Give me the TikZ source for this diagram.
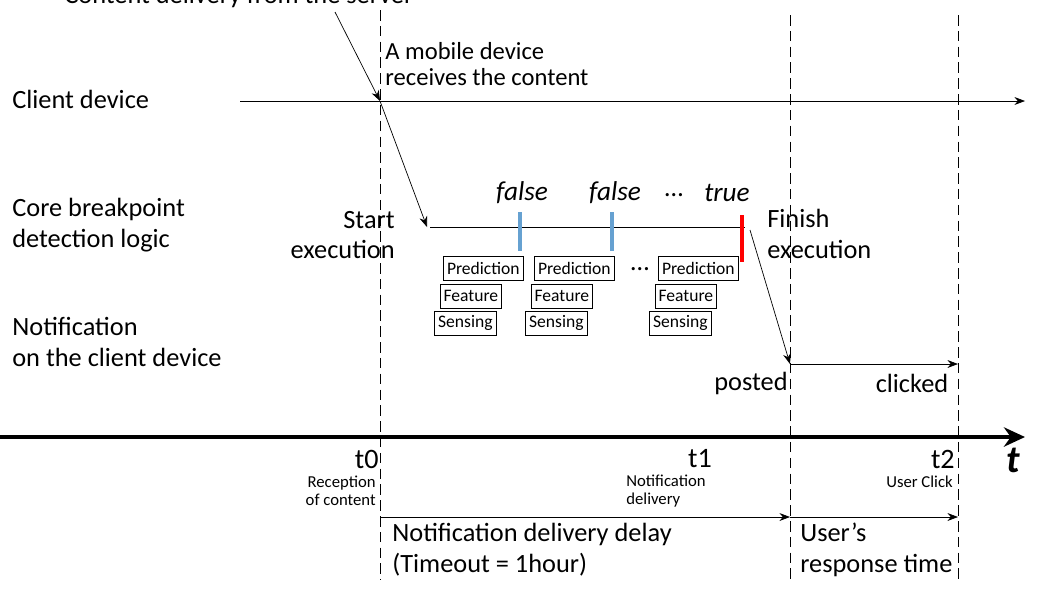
\documentclass[tikz,border=0pt]{standalone}
\usepackage{fontspec}
\setmainfont{Carlito}
\usetikzlibrary{arrows.meta, positioning, calc}

\begin{document}
\begin{tikzpicture}[x=0.02cm, y=-0.02cm,
  lbl/.style={font=\fontsize{15}{17.5}\selectfont, inner sep=0pt, align=left},
  small/.style={font=\fontsize{9.5}{10.3}\selectfont, inner sep=0pt},
  phase/.style={draw, font=\fontsize{10}{11}\selectfont, inner sep=1pt, minimum height=0.48cm},
  flag/.style={font=\fontsize{15.5}{17}\selectfont\itshape, inner sep=0pt},
  guide/.style={dashed, dash pattern=on 6pt off 3pt},
  arr/.style={-{Stealth[length=6pt]}},
  bar/.style={line width=2.2pt}]
  \useasboundingbox (0,0) rectangle (1040,600);
  \clip (0,0) rectangle (1040,600);

  % guide lines
  \draw[guide] (380,10) -- (380,580);
  \draw[guide] (790,15) -- (790,580);
  \draw[guide] (958,15) -- (958,580);

  % rows
  \node[lbl, anchor=west] (server) at (64,-4) {Content delivery from the server};
  \node[lbl, anchor=west] (client) at (12,99) {Client device};
  \node[lbl, anchor=west] (core) at (12,225) {Core breakpoint\\detection logic};
  \node[lbl, anchor=west] (notif) at (12,342) {Notification\\on the client device};
  \node[lbl, anchor=west, font=\fontsize{14}{15}\selectfont] (mobile) at (385,64) {A mobile device\\receives the content};

  \coordinate (cs) at (240,101);
  \coordinate (ce) at (1025,101);
  \coordinate (recv) at (380,101);
  \draw[arr] (cs) -- (ce);
  \draw[arr] (335,12) -- (recv);

  % execution
  \coordinate (es) at (430,227);
  \coordinate (ee) at (745,227);
  \draw[arr] (recv) -- (427,227);
  \draw (es) -- (ee);
  \node[lbl, align=right, anchor=east] (start) at (395,235) {Start\\execution};
  \node[lbl, anchor=west] (finish) at (767,234) {Finish\\execution};
  \draw[bar, color=blue!45!cyan!70!black!60] (520,212) -- (520,251);
  \draw[bar, color=blue!45!cyan!70!black!60] (612,212) -- (612,251);
  \draw[bar, red] (742,215) -- (742,262);
  \node[flag] (f1) at (522,193) {false};
  \node[flag] (f2) at (615,193) {false};
  \node[lbl] (fd) at (674,195) {…};
  \node[flag] (tr) at (727,193) {true};

  \foreach \x/\n in {443/a, 534/b, 658/c} {
    \node[phase, anchor=north west, minimum width=1.6cm] (pred\n) at (\x,256) {Prediction};
  }
  \foreach \x/\n in {440/a, 531/b, 655/c} {
    \node[phase, anchor=north west, minimum width=1.22cm] (feat\n) at (\x,284) {Feature};
  }
  \foreach \x/\n in {434/a, 525/b, 649/c} {
    \node[phase, anchor=north west, minimum width=1.24cm] (sens\n) at (\x,311) {Sensing};
  }
  \node[lbl] (pd) at (640,269) {…};

  % notification
  \coordinate (post) at (790,364);
  \coordinate (click) at (958,364);
  \draw[arr] (750,230) -- (post);
  \draw[arr] (post) -- (click);
  \node[lbl, anchor=east] (posted) at (788,383) {posted};
  \node[lbl] (clicked) at (912,383) {clicked};

  % time axis
  \coordinate (ta) at (0,437);
  \coordinate (tb) at (1025,437);
  \draw[line width=2.3pt, -{Stealth[length=12pt, width=11pt]}] (ta) -- (tb);
  \node[lbl, anchor=east, font=\fontsize{16}{17}\selectfont] (t0) at (379,459) {t0};
  \node[lbl, font=\fontsize{16}{17}\selectfont] (t1) at (700,459) {t1};
  \node[lbl, anchor=east, font=\fontsize{16}{17}\selectfont] (t2) at (955,459) {t2};
  \node[font=\fontsize{22}{22}\selectfont\bfseries\itshape, inner sep=0pt] (t) at (1013,460) {t};
  \node[small, align=right, anchor=east] (rec) at (376,491) {Reception\\of content};
  \node[small, align=left, anchor=west] (nd) at (626,491) {Notification\\delivery};
  \node[small, anchor=east] (uc) at (953,482) {User Click};

  % durations
  \coordinate (d0) at (380,517);
  \coordinate (d1) at (790,517);
  \coordinate (d2) at (958,517);
  \draw[arr] (d0) -- (d1);
  \draw[arr] (d1) -- (d2);
  \node[lbl, anchor=west] (delay) at (392,550) {Notification delivery delay\\(Timeout = 1hour)};
  \node[lbl, anchor=west] (resp) at (800,550) {User’s\\response time};
\end{tikzpicture}
\end{document}
